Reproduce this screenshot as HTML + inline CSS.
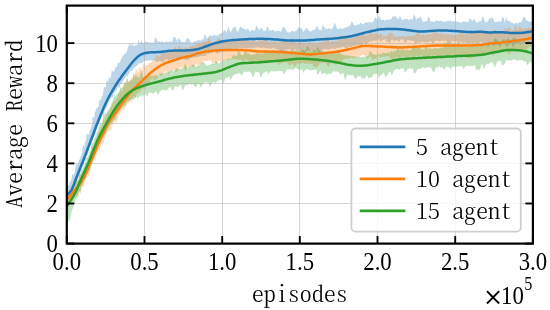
<!DOCTYPE html>
<html><head><meta charset="utf-8"><style>
html,body{margin:0;padding:0;background:#fff;}
svg{display:block;}
.serif{font-family:"Liberation Serif",serif;font-size:24px;fill:#000;}
.song{font-family:"Noto Serif CJK SC","Liberation Serif",serif;font-size:24px;fill:#000;font-feature-settings:"hwid";font-weight:300;}
</style></head><body>
<svg width="550" height="310" viewBox="0 0 550 310">
<rect width="550" height="310" fill="#fff"/>
<g fill-opacity="0.3" stroke="none">
<path d="M66.8,186.6 67.4,185.7 68.0,185.4 68.6,185.7 69.2,184.5 69.8,182.2 70.4,181.6 71.0,180.9 71.6,179.2 72.2,173.4 72.8,174.4 73.4,175.7 74.0,173.8 74.6,172.8 75.2,168.5 75.8,163.5 76.4,164.2 77.0,165.8 77.6,163.5 78.2,162.4 78.8,160.0 79.4,159.9 80.0,157.9 80.6,156.6 81.2,155.3 81.8,153.4 82.4,150.8 83.0,145.0 83.6,145.2 84.2,146.7 84.8,145.0 85.4,141.2 86.0,140.9 86.6,134.3 87.2,133.6 87.8,134.4 88.4,134.7 89.0,133.7 89.6,130.6 90.2,130.0 90.8,128.4 91.4,126.2 92.0,124.0 92.6,117.6 93.2,116.6 93.8,118.0 94.4,116.9 95.0,111.7 95.6,111.4 96.2,107.9 96.8,108.3 97.4,107.7 98.0,107.2 98.6,105.5 99.2,100.4 99.8,100.1 100.4,100.3 101.0,98.7 101.6,97.6 102.2,96.0 102.8,94.8 103.4,91.8 104.0,86.3 104.6,87.3 105.2,87.4 105.8,87.0 106.4,80.7 107.0,80.5 107.6,81.8 108.2,82.0 108.8,77.0 109.4,78.0 110.0,78.5 110.6,77.5 111.2,75.9 111.8,69.7 112.4,70.7 113.0,71.7 113.6,71.9 114.2,70.6 114.8,69.8 115.4,67.6 116.0,66.7 116.6,66.9 117.2,65.8 117.8,62.7 118.4,61.9 119.0,63.7 119.6,62.7 120.2,61.2 120.8,60.4 121.4,58.3 122.0,57.8 122.6,55.7 123.2,55.4 123.8,55.3 124.4,54.3 125.0,53.1 125.6,53.8 126.2,52.1 126.8,52.2 127.4,49.6 128.0,47.2 128.6,45.7 129.2,44.6 129.8,43.1 130.4,44.1 131.0,46.6 131.6,44.8 132.2,43.3 132.8,44.5 133.4,46.0 134.0,46.5 134.6,44.9 135.2,45.3 135.8,45.6 136.4,44.7 137.0,45.3 137.6,43.9 138.2,38.9 138.8,41.0 139.4,43.7 140.0,42.6 140.6,42.3 141.2,40.6 141.8,40.9 142.4,42.2 143.0,43.1 143.6,42.9 144.2,42.7 144.8,42.1 145.4,41.4 146.0,41.9 146.6,41.7 147.2,41.8 147.8,41.9 148.4,42.1 149.0,43.2 149.6,41.9 150.0,42.1 151.3,42.8 152.6,42.4 153.9,43.1 155.2,36.9 156.5,39.0 157.8,41.4 159.1,41.3 160.4,42.2 161.7,41.2 163.0,42.1 164.3,42.4 165.6,42.0 166.9,41.8 168.2,42.1 169.5,41.5 170.8,41.6 172.1,42.1 173.4,37.6 174.7,37.1 176.0,38.3 177.3,42.1 178.6,37.4 179.9,39.6 181.2,41.8 182.5,41.7 183.8,41.9 185.1,42.4 186.4,39.3 187.7,37.7 189.0,39.3 190.3,41.8 191.6,42.8 192.9,42.5 194.2,41.5 195.5,41.2 196.8,41.1 198.1,40.2 199.4,40.2 200.7,40.7 202.0,39.6 203.3,39.7 204.6,34.0 205.9,36.0 207.2,38.8 208.5,37.1 209.8,35.4 211.1,35.4 212.4,36.1 213.7,35.1 215.0,35.5 216.3,35.2 217.6,35.8 218.9,34.5 220.2,33.5 221.5,33.1 222.8,32.6 224.1,30.0 225.4,30.2 226.7,33.1 228.0,26.5 229.3,29.3 230.6,32.7 231.9,29.9 233.2,27.8 234.5,26.4 235.8,27.6 237.1,32.0 238.4,31.1 239.7,27.6 241.0,26.6 242.3,28.5 243.6,28.5 244.9,29.1 246.2,30.2 247.5,28.5 248.8,29.8 250.1,31.4 251.4,30.5 252.7,29.5 254.0,31.2 255.3,29.5 256.6,25.4 257.9,28.1 259.2,30.4 260.5,27.9 261.8,28.1 263.1,30.4 264.4,31.0 265.7,31.1 267.0,26.3 268.3,28.0 269.6,30.6 270.9,30.6 272.2,30.0 273.5,29.7 274.8,31.4 276.1,31.3 277.4,30.8 278.7,30.8 280.0,31.6 281.3,31.7 282.6,27.3 283.9,27.0 285.2,28.2 286.5,31.3 287.8,32.5 289.1,32.6 290.4,31.9 291.7,31.1 293.0,30.9 294.3,32.0 295.6,30.9 296.9,29.9 298.2,26.8 299.5,28.4 300.8,27.4 302.1,29.6 303.4,31.9 304.7,30.0 306.0,28.0 307.3,28.8 308.6,30.4 309.9,31.2 311.2,31.6 312.5,30.0 313.8,29.8 315.1,29.5 316.4,26.0 317.7,27.3 319.0,30.0 320.3,30.1 321.6,29.7 322.9,24.5 324.2,27.0 325.5,28.7 326.8,29.1 328.1,29.0 329.4,28.0 330.7,29.4 332.0,28.8 333.3,27.1 334.6,22.6 335.9,25.4 337.2,28.8 338.5,29.1 339.8,28.1 341.1,28.5 342.4,28.7 343.7,28.6 345.0,27.8 346.3,27.2 347.6,27.1 348.9,26.1 350.2,25.7 351.5,21.3 352.8,22.7 354.1,25.5 355.4,25.3 356.7,25.1 358.0,23.9 359.3,24.8 360.6,22.6 361.9,23.7 363.2,24.4 364.5,23.2 365.8,22.2 367.1,22.6 368.4,22.5 369.7,21.8 371.0,22.4 372.3,22.6 373.6,21.3 374.9,17.5 376.2,17.9 377.5,20.5 378.8,15.0 380.1,18.0 381.4,20.6 382.7,19.5 384.0,20.2 385.3,20.7 386.6,19.6 387.9,19.4 389.2,19.8 390.5,19.4 391.8,18.6 393.1,15.4 394.4,17.2 395.7,16.1 397.0,18.3 398.3,19.4 399.6,16.3 400.9,17.6 402.2,20.2 403.5,19.4 404.8,19.1 406.1,19.1 407.4,18.8 408.7,20.2 410.0,19.6 411.3,18.6 412.6,19.9 413.9,14.0 415.2,16.7 416.5,20.1 417.8,17.6 419.1,18.6 420.4,16.3 421.7,18.9 423.0,21.9 424.3,21.7 425.6,21.0 426.9,21.6 428.2,16.7 429.5,18.1 430.8,22.3 432.1,21.0 433.4,22.1 434.7,21.8 436.0,20.6 437.3,20.7 438.6,21.1 439.9,21.3 441.2,20.3 442.5,21.5 443.8,21.9 445.1,21.5 446.4,21.8 447.7,20.3 449.0,21.5 450.3,19.9 451.6,21.6 452.9,21.5 454.2,20.9 455.5,21.6 456.8,21.5 458.1,22.2 459.4,21.8 460.7,22.7 462.0,22.4 463.3,21.2 464.6,21.6 465.9,22.0 467.2,21.9 468.5,21.7 469.8,18.0 471.1,19.7 472.4,21.7 473.7,18.8 475.0,20.2 476.3,22.6 477.6,22.6 478.9,21.3 480.2,21.6 481.5,21.0 482.8,16.1 484.1,19.1 485.4,22.9 486.7,21.4 488.0,21.7 489.3,17.7 490.6,19.3 491.9,16.7 493.2,19.0 494.5,22.0 495.8,22.2 497.1,21.7 498.4,21.2 499.7,21.3 501.0,22.4 502.3,17.0 503.6,18.2 504.9,22.7 506.2,17.2 507.5,20.8 508.8,20.7 510.1,21.6 511.4,22.4 512.7,22.4 514.0,24.0 515.3,23.1 516.6,22.8 517.9,23.6 519.2,22.1 520.5,22.4 521.8,21.4 523.1,17.5 524.4,16.5 525.7,19.0 527.0,21.0 528.3,21.2 529.6,21.7 530.9,22.1 532.2,19.7 532.9,20.7 L532.9,42.5 532.2,42.3 530.9,42.1 529.6,43.2 528.3,41.5 527.0,43.1 525.7,42.8 524.4,42.6 523.1,43.1 521.8,43.3 520.5,44.4 519.2,44.2 517.9,42.7 516.6,43.7 515.3,44.3 514.0,45.5 512.7,47.7 511.4,43.0 510.1,43.2 508.8,45.2 507.5,46.3 506.2,47.7 504.9,43.7 503.6,42.6 502.3,43.1 501.0,45.7 499.7,47.6 498.4,43.4 497.1,44.1 495.8,45.0 494.5,44.8 493.2,46.7 491.9,43.4 490.6,43.0 489.3,45.9 488.0,47.6 486.7,42.9 485.4,44.4 484.1,44.8 482.8,43.0 481.5,42.0 480.2,42.0 478.9,42.8 477.6,43.5 476.3,43.1 475.0,42.6 473.7,42.7 472.4,43.5 471.1,42.4 469.8,42.9 468.5,42.9 467.2,43.5 465.9,42.1 464.6,42.4 463.3,42.6 462.0,42.5 460.7,40.9 459.4,43.5 458.1,43.2 456.8,41.1 455.5,41.3 454.2,41.6 452.9,40.9 451.6,41.2 450.3,43.8 449.0,45.9 447.7,43.6 446.4,40.5 445.1,40.4 443.8,41.4 442.5,40.0 441.2,41.0 439.9,41.0 438.6,41.3 437.3,40.4 436.0,40.4 434.7,41.2 433.4,43.4 432.1,43.6 430.8,40.7 429.5,41.4 428.2,42.2 426.9,42.6 425.6,42.4 424.3,42.1 423.0,41.9 421.7,41.5 420.4,42.2 419.1,43.4 417.8,41.7 416.5,43.2 415.2,45.0 413.9,40.7 412.6,41.2 411.3,40.6 410.0,40.4 408.7,40.5 407.4,39.5 406.1,42.6 404.8,42.9 403.5,40.1 402.2,39.2 400.9,39.5 399.6,41.1 398.3,41.8 397.0,39.7 395.7,39.9 394.4,41.2 393.1,40.1 391.8,39.2 390.5,41.4 389.2,43.6 387.9,41.2 386.6,42.2 385.3,39.1 384.0,39.7 382.7,39.8 381.4,40.9 380.1,41.6 378.8,39.1 377.5,39.6 376.2,40.9 374.9,40.8 373.6,40.1 372.3,41.5 371.0,41.5 369.7,41.4 368.4,42.3 367.1,44.0 365.8,46.2 364.5,42.6 363.2,42.7 361.9,46.5 360.6,47.8 359.3,44.9 358.0,44.6 356.7,45.5 355.4,45.6 354.1,45.8 352.8,45.8 351.5,47.2 350.2,46.5 348.9,46.5 347.6,48.4 346.3,48.5 345.0,47.8 343.7,46.7 342.4,46.9 341.1,47.6 339.8,47.9 338.5,47.4 337.2,47.7 335.9,48.5 334.6,48.8 333.3,48.8 332.0,48.1 330.7,49.0 329.4,48.9 328.1,50.0 326.8,48.9 325.5,48.7 324.2,49.6 322.9,49.4 321.6,51.1 320.3,52.8 319.0,52.7 317.7,51.5 316.4,49.7 315.1,52.2 313.8,53.6 312.5,49.4 311.2,50.5 309.9,50.8 308.6,50.3 307.3,50.0 306.0,52.1 304.7,54.4 303.4,53.0 302.1,52.5 300.8,49.5 299.5,49.9 298.2,49.7 296.9,50.4 295.6,49.3 294.3,49.1 293.0,51.2 291.7,51.7 290.4,49.4 289.1,48.7 287.8,49.9 286.5,48.7 285.2,51.8 283.9,53.0 282.6,51.9 281.3,50.3 280.0,52.5 278.7,51.0 277.4,48.9 276.1,48.9 274.8,48.8 273.5,47.6 272.2,48.4 270.9,48.7 269.6,48.6 268.3,48.4 267.0,48.3 265.7,48.4 264.4,47.7 263.1,47.4 261.8,47.8 260.5,48.3 259.2,47.6 257.9,47.3 256.6,47.5 255.3,47.5 254.0,47.7 252.7,48.1 251.4,48.6 250.1,47.8 248.8,47.7 247.5,48.6 246.2,48.4 244.9,47.9 243.6,48.5 242.3,47.6 241.0,48.8 239.7,47.7 238.4,48.6 237.1,49.4 235.8,48.8 234.5,48.9 233.2,48.3 231.9,50.0 230.6,50.7 229.3,50.2 228.0,50.3 226.7,48.8 225.4,50.5 224.1,52.1 222.8,49.2 221.5,49.9 220.2,51.4 218.9,53.1 217.6,52.7 216.3,53.6 215.0,52.0 213.7,51.6 212.4,52.7 211.1,53.0 209.8,53.0 208.5,54.0 207.2,53.7 205.9,55.2 204.6,56.1 203.3,55.8 202.0,56.1 200.7,56.0 199.4,56.3 198.1,57.2 196.8,56.9 195.5,57.6 194.2,57.5 192.9,57.6 191.6,57.8 190.3,58.2 189.0,59.4 187.7,60.1 186.4,59.5 185.1,60.0 183.8,58.4 182.5,58.2 181.2,58.1 179.9,58.4 178.6,59.6 177.3,60.9 176.0,58.8 174.7,58.1 173.4,59.9 172.1,60.5 170.8,58.6 169.5,59.8 168.2,60.4 166.9,58.9 165.6,59.4 164.3,60.9 163.0,62.4 161.7,60.9 160.4,61.6 159.1,60.8 157.8,61.7 156.5,62.2 155.2,59.9 153.9,60.7 152.6,60.4 151.3,60.6 150.0,60.2 149.6,60.3 149.0,60.7 148.4,60.6 147.8,61.0 147.2,60.6 146.6,60.9 146.0,60.6 145.4,60.7 144.8,61.1 144.2,61.0 143.6,61.1 143.0,62.6 142.4,63.2 141.8,62.0 141.2,63.8 140.6,64.5 140.0,62.8 139.4,63.0 138.8,63.3 138.2,64.3 137.6,64.6 137.0,65.7 136.4,65.9 135.8,66.6 135.2,67.1 134.6,67.5 134.0,68.3 133.4,68.5 132.8,70.1 132.2,71.2 131.6,70.5 131.0,70.6 130.4,71.5 129.8,72.4 129.2,73.3 128.6,74.2 128.0,75.1 127.4,77.3 126.8,75.3 126.2,76.4 125.6,77.1 125.0,77.6 124.4,78.7 123.8,79.6 123.2,80.2 122.6,81.8 122.0,84.0 121.4,83.4 120.8,83.4 120.2,85.5 119.6,86.9 119.0,88.2 118.4,86.8 117.8,87.5 117.2,88.2 116.6,90.1 116.0,91.9 115.4,91.2 114.8,92.5 114.2,92.9 113.6,93.8 113.0,96.3 112.4,98.6 111.8,96.9 111.2,97.8 110.6,99.0 110.0,99.6 109.4,101.2 108.8,101.8 108.2,103.0 107.6,105.4 107.0,107.8 106.4,107.1 105.8,108.4 105.2,109.3 104.6,111.4 104.0,112.9 103.4,115.1 102.8,114.6 102.2,116.2 101.6,117.7 101.0,119.0 100.4,120.8 99.8,121.8 99.2,123.2 98.6,124.6 98.0,126.2 97.4,127.4 96.8,129.4 96.2,131.1 95.6,133.8 95.0,135.9 94.4,135.5 93.8,137.0 93.2,138.6 92.6,140.2 92.0,141.6 91.4,143.6 90.8,145.3 90.2,146.6 89.6,148.0 89.0,150.5 88.4,152.5 87.8,153.9 87.2,156.3 86.6,155.8 86.0,158.8 85.4,161.0 84.8,161.0 84.2,163.0 83.6,165.9 83.0,165.3 82.4,166.8 81.8,169.5 81.2,171.5 80.6,172.0 80.0,173.0 79.4,174.2 78.8,175.8 78.2,177.5 77.6,179.1 77.0,179.8 76.4,181.4 75.8,183.5 75.2,184.6 74.6,186.2 74.0,188.1 73.4,189.8 72.8,191.1 72.2,192.8 71.6,194.9 71.0,194.5 70.4,196.6 69.8,197.8 69.2,197.1 68.6,197.6 68.0,199.2 67.4,198.0 66.8,199.0 Z" fill="#1f77b4"/>
<path d="M66.8,195.3 67.4,193.2 68.0,193.7 68.6,192.8 69.2,191.7 69.8,190.9 70.4,189.2 71.0,186.9 71.6,185.5 72.2,184.3 72.8,185.8 73.4,185.3 74.0,185.3 74.6,184.4 75.2,183.1 75.8,182.2 76.4,175.9 77.0,176.4 77.6,180.0 78.2,179.4 78.8,173.3 79.4,173.5 80.0,175.3 80.6,174.7 81.2,175.4 81.8,172.7 82.4,172.2 83.0,170.5 83.6,170.2 84.2,169.5 84.8,167.2 85.4,166.0 86.0,164.3 86.6,164.1 87.2,162.5 87.8,159.8 88.4,159.4 89.0,156.1 89.6,151.9 90.2,151.3 90.8,153.0 91.4,145.4 92.0,147.0 92.6,148.1 93.2,146.3 93.8,144.9 94.4,143.9 95.0,142.1 95.6,139.2 96.2,138.6 96.8,137.7 97.4,137.7 98.0,133.4 98.6,131.3 99.2,131.6 99.8,131.2 100.4,129.0 101.0,127.4 101.6,125.6 102.2,125.2 102.8,118.1 103.4,119.3 104.0,121.0 104.6,118.9 105.2,117.5 105.8,116.6 106.4,115.7 107.0,113.2 107.6,110.9 108.2,112.0 108.8,111.2 109.4,109.4 110.0,108.2 110.6,106.9 111.2,107.4 111.8,101.5 112.4,102.3 113.0,105.2 113.6,99.6 114.2,100.5 114.8,102.5 115.4,100.1 116.0,100.1 116.6,98.4 117.2,99.1 117.8,96.5 118.4,93.0 119.0,93.2 119.6,94.6 120.2,87.5 120.8,89.8 121.4,91.3 122.0,92.1 122.6,90.3 123.2,83.8 123.8,85.5 124.4,81.6 125.0,82.7 125.6,84.2 126.2,84.4 126.8,79.4 127.4,79.1 128.0,79.2 128.6,82.4 129.2,82.0 129.8,81.2 130.4,80.8 131.0,80.2 131.6,77.8 132.2,76.6 132.8,78.0 133.4,75.6 134.0,74.6 134.6,74.5 135.2,74.4 135.8,68.5 136.4,69.0 137.0,71.3 137.6,71.9 138.2,72.9 138.8,67.7 139.4,67.0 140.0,71.7 140.6,66.5 141.2,68.5 141.8,71.0 142.4,70.2 143.0,63.0 143.6,64.9 144.2,61.8 144.8,64.7 145.4,66.1 146.0,66.4 146.6,64.8 147.2,65.1 147.8,65.5 148.4,65.1 149.0,62.8 149.6,63.5 150.0,63.3 151.3,61.7 152.6,61.2 153.9,60.3 155.2,58.4 156.5,55.3 157.8,54.8 159.1,57.3 160.4,56.2 161.7,51.7 163.0,52.9 164.3,52.7 165.6,53.6 166.9,53.2 168.2,52.0 169.5,52.0 170.8,51.5 172.1,51.3 173.4,51.8 174.7,46.3 176.0,47.7 177.3,50.9 178.6,45.0 179.9,46.5 181.2,48.6 182.5,48.5 183.8,49.0 185.1,48.0 186.4,47.1 187.7,48.2 189.0,46.8 190.3,46.3 191.6,46.6 192.9,45.3 194.2,45.4 195.5,44.8 196.8,44.5 198.1,43.5 199.4,43.2 200.7,43.6 202.0,42.0 203.3,42.4 204.6,41.0 205.9,41.3 207.2,41.7 208.5,36.7 209.8,39.4 211.1,42.3 212.4,42.0 213.7,42.1 215.0,41.8 216.3,41.2 217.6,38.7 218.9,38.2 220.2,39.0 221.5,42.0 222.8,41.0 224.1,41.0 225.4,40.3 226.7,41.7 228.0,40.7 229.3,41.3 230.6,41.5 231.9,41.5 233.2,40.3 234.5,41.0 235.8,40.9 237.1,40.3 238.4,40.2 239.7,40.2 241.0,39.0 242.3,38.3 243.6,39.4 244.9,39.5 246.2,40.3 247.5,40.3 248.8,40.3 250.1,40.8 251.4,41.8 252.7,39.1 254.0,41.0 255.3,41.5 256.6,41.7 257.9,41.7 259.2,37.3 260.5,38.7 261.8,40.7 263.1,41.2 264.4,37.4 265.7,38.7 267.0,39.9 268.3,41.4 269.6,41.9 270.9,41.7 272.2,41.4 273.5,42.4 274.8,41.3 276.1,41.6 277.4,43.0 278.7,42.5 280.0,41.5 281.3,42.8 282.6,38.3 283.9,39.7 285.2,40.1 286.5,41.7 287.8,43.2 289.1,41.2 290.4,40.9 291.7,36.9 293.0,40.4 294.3,42.8 295.6,42.6 296.9,43.7 298.2,42.5 299.5,41.5 300.8,42.2 302.1,43.7 303.4,43.3 304.7,43.3 306.0,44.3 307.3,44.5 308.6,41.9 309.9,41.8 311.2,42.9 312.5,43.5 313.8,43.7 315.1,43.6 316.4,43.2 317.7,42.8 319.0,42.9 320.3,42.3 321.6,42.4 322.9,42.2 324.2,42.1 325.5,39.3 326.8,36.3 328.1,38.6 329.4,42.7 330.7,41.4 332.0,41.1 333.3,41.2 334.6,41.4 335.9,40.8 337.2,41.2 338.5,40.6 339.8,35.6 341.1,37.1 342.4,39.7 343.7,34.6 345.0,35.9 346.3,36.4 347.6,37.3 348.9,38.8 350.2,38.8 351.5,37.6 352.8,37.4 354.1,38.0 355.4,37.4 356.7,35.6 358.0,35.6 359.3,35.1 360.6,35.8 361.9,32.3 363.2,33.2 364.5,35.3 365.8,36.1 367.1,35.3 368.4,35.0 369.7,31.6 371.0,32.3 372.3,32.5 373.6,35.0 374.9,33.2 376.2,33.2 377.5,34.6 378.8,35.1 380.1,33.4 381.4,33.8 382.7,36.3 384.0,35.3 385.3,36.8 386.6,35.6 387.9,35.6 389.2,32.0 390.5,34.1 391.8,32.4 393.1,34.4 394.4,36.7 395.7,36.3 397.0,36.5 398.3,36.5 399.6,35.9 400.9,37.0 402.2,36.2 403.5,36.1 404.8,36.8 406.1,37.3 407.4,35.8 408.7,35.8 410.0,36.1 411.3,35.2 412.6,36.4 413.9,35.5 415.2,35.6 416.5,32.9 417.8,33.4 419.1,33.9 420.4,34.4 421.7,35.4 423.0,34.3 424.3,34.7 425.6,35.8 426.9,34.8 428.2,34.2 429.5,34.2 430.8,34.0 432.1,34.9 433.4,33.5 434.7,30.3 436.0,32.2 437.3,32.6 438.6,34.5 439.9,33.2 441.2,33.6 442.5,33.5 443.8,34.8 445.1,34.5 446.4,33.7 447.7,34.6 449.0,35.0 450.3,33.8 451.6,35.0 452.9,34.4 454.2,35.1 455.5,35.2 456.8,34.5 458.1,34.3 459.4,34.2 460.7,28.7 462.0,31.6 463.3,33.2 464.6,34.8 465.9,33.0 467.2,34.1 468.5,34.9 469.8,30.2 471.1,31.9 472.4,33.6 473.7,32.1 475.0,32.4 476.3,33.3 477.6,32.7 478.9,31.1 480.2,30.0 481.5,31.2 482.8,29.4 484.1,30.3 485.4,33.1 486.7,30.1 488.0,32.0 489.3,32.2 490.6,32.7 491.9,32.0 493.2,31.8 494.5,29.3 495.8,29.8 497.1,32.9 498.4,31.9 499.7,32.8 501.0,32.1 502.3,31.6 503.6,31.6 504.9,27.8 506.2,28.5 507.5,30.4 508.8,26.3 510.1,28.5 511.4,30.7 512.7,30.5 514.0,30.2 515.3,24.4 516.6,27.3 517.9,30.4 519.2,25.9 520.5,26.6 521.8,29.4 523.1,29.0 524.4,28.4 525.7,28.8 527.0,29.1 528.3,27.6 529.6,28.6 530.9,28.3 532.2,28.7 532.9,27.7 L532.9,46.4 532.2,45.6 530.9,46.7 529.6,46.2 528.3,47.8 527.0,48.8 525.7,52.2 524.4,48.9 523.1,49.1 521.8,51.6 520.5,52.3 519.2,49.1 517.9,49.2 516.6,50.1 515.3,50.0 514.0,50.5 512.7,50.5 511.4,51.6 510.1,52.7 508.8,55.5 507.5,51.8 506.2,51.5 504.9,50.6 503.6,51.7 502.3,52.3 501.0,51.9 499.7,52.3 498.4,52.6 497.1,52.1 495.8,52.5 494.5,54.0 493.2,56.4 491.9,52.2 490.6,51.7 489.3,51.9 488.0,52.8 486.7,52.2 485.4,53.5 484.1,53.8 482.8,53.6 481.5,54.6 480.2,53.2 478.9,55.0 477.6,54.1 476.3,54.5 475.0,56.7 473.7,57.0 472.4,57.8 471.1,58.8 469.8,57.8 468.5,58.0 467.2,57.4 465.9,58.0 464.6,55.6 463.3,54.8 462.0,54.5 460.7,55.4 459.4,55.6 458.1,55.2 456.8,55.4 455.5,54.8 454.2,55.0 452.9,54.2 451.6,54.7 450.3,55.4 449.0,56.9 447.7,57.4 446.4,56.8 445.1,54.3 443.8,54.8 442.5,56.5 441.2,56.9 439.9,58.0 438.6,58.1 437.3,57.6 436.0,58.4 434.7,54.4 433.4,56.1 432.1,56.6 430.8,55.1 429.5,56.9 428.2,58.0 426.9,57.8 425.6,59.3 424.3,56.2 423.0,57.1 421.7,54.8 420.4,55.4 419.1,55.8 417.8,56.1 416.5,55.5 415.2,56.3 413.9,58.3 412.6,59.8 411.3,55.6 410.0,55.9 408.7,56.7 407.4,57.3 406.1,59.2 404.8,56.1 403.5,57.0 402.2,56.6 400.9,57.9 399.6,57.8 398.3,59.1 397.0,56.5 395.7,58.4 394.4,60.2 393.1,58.5 391.8,60.0 390.5,58.7 389.2,55.7 387.9,56.3 386.6,56.2 385.3,56.2 384.0,56.9 382.7,56.4 381.4,57.3 380.1,58.0 378.8,55.4 377.5,56.9 376.2,58.5 374.9,58.8 373.6,59.5 372.3,60.4 371.0,56.2 369.7,56.7 368.4,57.5 367.1,59.1 365.8,55.8 364.5,55.8 363.2,54.7 361.9,54.9 360.6,56.5 359.3,56.4 358.0,56.1 356.7,57.0 355.4,58.5 354.1,58.6 352.8,57.4 351.5,57.5 350.2,58.2 348.9,58.8 347.6,58.5 346.3,58.6 345.0,59.1 343.7,59.1 342.4,60.9 341.1,62.2 339.8,61.3 338.5,61.1 337.2,63.1 335.9,65.1 334.6,62.6 333.3,64.2 332.0,61.6 330.7,61.5 329.4,65.5 328.1,67.1 326.8,64.5 325.5,62.8 324.2,62.4 322.9,62.9 321.6,63.3 320.3,62.5 319.0,64.5 317.7,67.1 316.4,67.7 315.1,66.0 313.8,68.6 312.5,63.5 311.2,63.9 309.9,63.9 308.6,63.6 307.3,63.6 306.0,63.7 304.7,64.1 303.4,63.0 302.1,62.9 300.8,63.7 299.5,63.8 298.2,63.7 296.9,63.6 295.6,65.6 294.3,67.1 293.0,63.4 291.7,63.6 290.4,64.7 289.1,65.4 287.8,62.6 286.5,62.6 285.2,62.9 283.9,61.8 282.6,62.8 281.3,63.0 280.0,64.2 278.7,65.6 277.4,62.2 276.1,62.2 274.8,60.9 273.5,60.8 272.2,61.2 270.9,60.9 269.6,61.8 268.3,63.6 267.0,63.6 265.7,61.1 264.4,61.9 263.1,60.6 261.8,61.0 260.5,61.4 259.2,63.6 257.9,63.9 256.6,60.6 255.3,59.9 254.0,61.3 252.7,63.8 251.4,64.2 250.1,60.8 248.8,60.8 247.5,59.4 246.2,59.8 244.9,60.0 243.6,61.5 242.3,62.5 241.0,59.0 239.7,59.7 238.4,60.1 237.1,59.0 235.8,59.2 234.5,59.5 233.2,58.9 231.9,59.6 230.6,59.3 229.3,59.4 228.0,60.0 226.7,59.6 225.4,59.6 224.1,60.3 222.8,59.8 221.5,60.8 220.2,62.5 218.9,60.2 217.6,62.3 216.3,64.1 215.0,60.2 213.7,63.1 212.4,64.8 211.1,60.1 209.8,61.2 208.5,60.1 207.2,61.0 205.9,60.7 204.6,60.8 203.3,61.0 202.0,63.0 200.7,64.3 199.4,65.4 198.1,67.5 196.8,63.8 195.5,64.7 194.2,66.3 192.9,67.7 191.6,65.2 190.3,66.7 189.0,68.7 187.7,65.3 186.4,69.3 185.1,71.5 183.8,67.3 182.5,67.5 181.2,67.5 179.9,67.6 178.6,69.3 177.3,70.7 176.0,72.7 174.7,69.8 173.4,70.0 172.1,70.1 170.8,70.3 169.5,72.9 168.2,75.6 166.9,71.5 165.6,71.1 164.3,71.9 163.0,74.7 161.7,76.1 160.4,75.4 159.1,74.4 157.8,77.0 156.5,79.3 155.2,79.6 153.9,81.3 152.6,78.0 151.3,79.8 150.0,80.2 149.6,82.9 149.0,84.3 148.4,82.4 147.8,82.6 147.2,84.7 146.6,87.0 146.0,84.2 145.4,84.6 144.8,86.0 144.2,86.3 143.6,87.2 143.0,88.2 142.4,89.0 141.8,89.1 141.2,89.6 140.6,90.8 140.0,90.7 139.4,91.7 138.8,91.8 138.2,92.9 137.6,93.5 137.0,93.2 136.4,94.1 135.8,96.9 135.2,98.5 134.6,95.9 134.0,96.0 133.4,96.7 132.8,98.2 132.2,99.3 131.6,102.0 131.0,103.7 130.4,100.0 129.8,101.0 129.2,102.4 128.6,103.1 128.0,103.8 127.4,103.4 126.8,104.6 126.2,104.9 125.6,105.7 125.0,106.5 124.4,109.3 123.8,111.0 123.2,109.4 122.6,109.3 122.0,111.0 121.4,111.8 120.8,112.8 120.2,112.4 119.6,114.6 119.0,115.3 118.4,116.1 117.8,117.6 117.2,119.8 116.6,122.3 116.0,123.4 115.4,120.0 114.8,121.4 114.2,121.0 113.6,123.9 113.0,125.0 112.4,124.2 111.8,124.2 111.2,127.6 110.6,130.4 110.0,131.4 109.4,128.3 108.8,130.6 108.2,131.9 107.6,131.3 107.0,132.8 106.4,134.2 105.8,134.7 105.2,136.6 104.6,137.7 104.0,140.9 103.4,143.3 102.8,142.0 102.2,143.7 101.6,143.9 101.0,144.3 100.4,146.3 99.8,149.9 99.2,151.9 98.6,150.1 98.0,150.4 97.4,152.2 96.8,153.9 96.2,155.1 95.6,158.7 95.0,161.2 94.4,158.3 93.8,160.5 93.2,161.3 92.6,163.1 92.0,164.6 91.4,166.9 90.8,167.2 90.2,170.5 89.6,172.3 89.0,174.2 88.4,177.8 87.8,175.0 87.2,176.9 86.6,177.8 86.0,179.1 85.4,181.5 84.8,182.2 84.2,184.8 83.6,187.3 83.0,186.5 82.4,187.0 81.8,187.0 81.2,191.2 80.6,192.9 80.0,194.3 79.4,190.8 78.8,194.5 78.2,196.4 77.6,195.7 77.0,198.2 76.4,194.5 75.8,195.9 75.2,195.1 74.6,196.8 74.0,196.5 73.4,198.9 72.8,201.6 72.2,199.7 71.6,200.7 71.0,201.2 70.4,201.5 69.8,202.4 69.2,202.4 68.6,205.2 68.0,207.7 67.4,204.0 66.8,204.4 Z" fill="#ff7f0e"/>
<path d="M66.8,197.5 67.4,198.0 68.0,199.1 68.6,198.4 69.2,197.7 69.8,194.4 70.4,194.4 71.0,195.0 71.6,192.8 72.2,189.7 72.8,190.5 73.4,190.0 74.0,190.0 74.6,188.4 75.2,182.6 75.8,183.5 76.4,180.4 77.0,181.1 77.6,180.8 78.2,179.8 78.8,178.6 79.4,174.0 80.0,173.0 80.6,173.5 81.2,171.8 81.8,169.9 82.4,170.0 83.0,167.8 83.6,165.8 84.2,165.8 84.8,164.2 85.4,162.5 86.0,160.9 86.6,157.2 87.2,156.9 87.8,158.1 88.4,155.5 89.0,154.9 89.6,153.8 90.2,150.8 90.8,149.9 91.4,144.0 92.0,142.4 92.6,142.9 93.2,143.5 93.8,141.1 94.4,139.3 95.0,138.1 95.6,136.8 96.2,134.5 96.8,132.9 97.4,131.5 98.0,131.2 98.6,127.4 99.2,126.6 99.8,122.1 100.4,123.6 101.0,122.7 101.6,123.4 102.2,123.0 102.8,120.9 103.4,115.0 104.0,112.8 104.6,115.5 105.2,112.1 105.8,112.4 106.4,114.0 107.0,113.6 107.6,111.2 108.2,110.4 108.8,109.2 109.4,107.7 110.0,106.9 110.6,105.8 111.2,104.9 111.8,104.3 112.4,102.5 113.0,100.3 113.6,97.9 114.2,94.6 114.8,94.6 115.4,97.1 116.0,96.0 116.6,93.8 117.2,93.4 117.8,93.2 118.4,92.4 119.0,90.9 119.6,91.2 120.2,86.5 120.8,87.2 121.4,88.6 122.0,88.5 122.6,87.2 123.2,86.0 123.8,86.6 124.4,84.9 125.0,81.0 125.6,82.0 126.2,83.8 126.8,77.5 127.4,78.4 128.0,82.2 128.6,82.5 129.2,80.6 129.8,81.1 130.4,80.2 131.0,79.1 131.6,79.5 132.2,79.4 132.8,79.4 133.4,72.3 134.0,74.0 134.6,77.5 135.2,77.1 135.8,73.1 136.4,75.2 137.0,76.7 137.6,76.7 138.2,76.5 138.8,77.5 139.4,78.0 140.0,72.9 140.6,75.1 141.2,70.3 141.8,72.0 142.4,72.7 143.0,77.1 143.6,77.1 144.2,77.2 144.8,77.6 145.4,76.4 146.0,78.4 146.6,76.8 147.2,77.7 147.8,75.5 148.4,72.5 149.0,73.3 149.6,75.9 150.0,75.9 151.3,75.6 152.6,75.6 153.9,76.5 155.2,75.5 156.5,75.6 157.8,75.7 159.1,74.8 160.4,73.2 161.7,73.6 163.0,73.6 164.3,73.7 165.6,71.8 166.9,72.7 168.2,72.5 169.5,71.5 170.8,70.2 172.1,69.8 173.4,71.2 174.7,70.0 176.0,69.5 177.3,67.9 178.6,69.2 179.9,68.8 181.2,68.9 182.5,67.8 183.8,67.2 185.1,63.6 186.4,66.1 187.7,68.0 189.0,67.2 190.3,66.6 191.6,65.2 192.9,64.3 194.2,64.8 195.5,65.9 196.8,66.7 198.1,65.9 199.4,65.9 200.7,63.5 202.0,62.1 203.3,61.9 204.6,63.2 205.9,65.0 207.2,66.1 208.5,65.1 209.8,64.9 211.1,63.9 212.4,63.9 213.7,64.0 215.0,60.3 216.3,61.3 217.6,63.1 218.9,63.4 220.2,62.5 221.5,61.5 222.8,59.3 224.1,59.7 225.4,59.9 226.7,59.1 228.0,58.7 229.3,59.0 230.6,58.8 231.9,58.0 233.2,54.2 234.5,55.6 235.8,55.9 237.1,55.5 238.4,49.3 239.7,52.7 241.0,54.4 242.3,55.7 243.6,54.6 244.9,49.8 246.2,52.2 247.5,53.2 248.8,53.6 250.1,54.6 251.4,55.1 252.7,54.5 254.0,55.0 255.3,54.2 256.6,52.2 257.9,53.1 259.2,53.9 260.5,53.6 261.8,53.6 263.1,54.0 264.4,51.0 265.7,51.8 267.0,52.2 268.3,52.1 269.6,52.0 270.9,53.2 272.2,52.6 273.5,50.8 274.8,51.7 276.1,52.6 277.4,52.3 278.7,51.5 280.0,51.4 281.3,49.1 282.6,50.7 283.9,51.4 285.2,51.0 286.5,51.1 287.8,50.5 289.1,51.7 290.4,50.4 291.7,51.3 293.0,50.5 294.3,50.4 295.6,50.4 296.9,49.8 298.2,50.7 299.5,50.7 300.8,49.3 302.1,50.1 303.4,50.1 304.7,50.5 306.0,50.0 307.3,45.5 308.6,46.9 309.9,50.3 311.2,50.9 312.5,49.8 313.8,50.6 315.1,49.9 316.4,49.9 317.7,46.0 319.0,49.2 320.3,51.3 321.6,51.3 322.9,50.9 324.2,51.8 325.5,51.9 326.8,51.4 328.1,53.0 329.4,53.2 330.7,53.4 332.0,52.9 333.3,53.7 334.6,53.7 335.9,53.7 337.2,53.8 338.5,50.4 339.8,52.7 341.1,54.2 342.4,54.2 343.7,55.1 345.0,55.7 346.3,54.7 347.6,56.3 348.9,55.2 350.2,55.7 351.5,56.4 352.8,56.0 354.1,56.2 355.4,57.3 356.7,56.5 358.0,56.2 359.3,56.5 360.6,57.3 361.9,57.3 363.2,56.3 364.5,57.3 365.8,56.0 367.1,56.2 368.4,56.2 369.7,50.6 371.0,52.0 372.3,53.7 373.6,54.2 374.9,54.9 376.2,54.4 377.5,55.2 378.8,53.7 380.1,53.7 381.4,54.2 382.7,52.8 384.0,52.6 385.3,53.1 386.6,53.2 387.9,51.9 389.2,53.2 390.5,51.4 391.8,51.1 393.1,52.3 394.4,50.7 395.7,51.3 397.0,48.8 398.3,48.9 399.6,50.0 400.9,49.9 402.2,49.3 403.5,49.6 404.8,49.8 406.1,50.5 407.4,49.6 408.7,50.6 410.0,50.2 411.3,50.1 412.6,46.6 413.9,44.5 415.2,46.0 416.5,46.2 417.8,47.2 419.1,46.5 420.4,47.7 421.7,49.8 423.0,49.1 424.3,49.9 425.6,44.7 426.9,45.8 428.2,49.4 429.5,48.1 430.8,48.4 432.1,49.3 433.4,48.6 434.7,47.6 436.0,48.6 437.3,48.6 438.6,48.3 439.9,47.8 441.2,47.8 442.5,48.0 443.8,42.6 445.1,44.3 446.4,41.8 447.7,43.2 449.0,46.7 450.3,43.9 451.6,45.5 452.9,43.4 454.2,43.9 455.5,46.3 456.8,46.6 458.1,42.4 459.4,44.5 460.7,45.9 462.0,46.3 463.3,46.1 464.6,47.0 465.9,46.9 467.2,47.1 468.5,47.0 469.8,46.8 471.1,45.1 472.4,44.5 473.7,43.3 475.0,43.6 476.3,45.6 477.6,42.8 478.9,42.7 480.2,43.5 481.5,44.7 482.8,45.7 484.1,45.9 485.4,45.4 486.7,44.7 488.0,42.2 489.3,41.7 490.6,43.6 491.9,43.5 493.2,43.6 494.5,37.4 495.8,39.3 497.1,39.3 498.4,41.4 499.7,42.1 501.0,42.4 502.3,39.8 503.6,39.3 504.9,39.5 506.2,41.1 507.5,38.2 508.8,38.2 510.1,41.2 511.4,40.6 512.7,38.0 514.0,38.6 515.3,37.6 516.6,40.5 517.9,40.8 519.2,41.3 520.5,41.8 521.8,42.9 523.1,39.9 524.4,41.1 525.7,42.3 527.0,43.6 528.3,40.7 529.6,41.6 530.9,43.7 532.2,45.8 532.9,45.4 L532.9,63.6 532.2,62.3 530.9,61.9 529.6,61.4 528.3,64.6 527.0,64.9 525.7,60.8 524.4,61.9 523.1,60.4 521.8,59.7 520.5,59.9 519.2,60.4 517.9,60.1 516.6,61.0 515.3,59.6 514.0,59.4 512.7,59.4 511.4,60.2 510.1,60.8 508.8,59.9 507.5,60.7 506.2,59.5 504.9,63.3 503.6,64.7 502.3,65.7 501.0,61.3 499.7,60.6 498.4,61.9 497.1,61.0 495.8,65.6 494.5,67.8 493.2,62.6 491.9,62.2 490.6,62.4 489.3,63.3 488.0,64.5 486.7,63.7 485.4,66.0 484.1,69.6 482.8,64.4 481.5,64.4 480.2,68.9 478.9,70.3 477.6,68.4 476.3,71.1 475.0,64.9 473.7,65.3 472.4,66.6 471.1,65.7 469.8,66.6 468.5,65.5 467.2,66.5 465.9,65.5 464.6,67.5 463.3,68.7 462.0,65.5 460.7,66.8 459.4,66.2 458.1,66.1 456.8,66.9 455.5,66.5 454.2,66.8 452.9,66.6 451.6,67.6 450.3,69.2 449.0,67.0 447.7,66.8 446.4,66.2 445.1,68.5 443.8,70.3 442.5,66.8 441.2,67.9 439.9,66.4 438.6,66.4 437.3,68.1 436.0,66.8 434.7,71.2 433.4,72.6 432.1,69.9 430.8,67.1 429.5,67.7 428.2,67.1 426.9,67.2 425.6,68.4 424.3,67.8 423.0,67.5 421.7,68.1 420.4,68.6 419.1,69.1 417.8,69.0 416.5,71.0 415.2,73.2 413.9,73.5 412.6,67.9 411.3,69.2 410.0,67.7 408.7,68.9 407.4,69.4 406.1,70.9 404.8,72.8 403.5,67.7 402.2,68.9 400.9,67.9 399.6,69.9 398.3,68.9 397.0,68.8 395.7,69.3 394.4,70.0 393.1,72.5 391.8,75.8 390.5,71.5 389.2,71.8 387.9,74.2 386.6,76.0 385.3,77.8 384.0,72.5 382.7,73.2 381.4,74.9 380.1,75.5 378.8,78.0 377.5,73.1 376.2,74.3 374.9,73.9 373.6,74.0 372.3,76.7 371.0,77.7 369.7,77.1 368.4,79.0 367.1,74.8 365.8,77.1 364.5,79.5 363.2,77.2 361.9,79.3 360.6,75.4 359.3,76.4 358.0,75.5 356.7,78.0 355.4,78.6 354.1,76.9 352.8,74.7 351.5,75.6 350.2,74.7 348.9,75.2 347.6,74.6 346.3,76.9 345.0,80.2 343.7,74.0 342.4,72.8 341.1,74.8 339.8,73.4 338.5,72.1 337.2,71.4 335.9,71.4 334.6,71.8 333.3,70.8 332.0,73.1 330.7,74.1 329.4,74.3 328.1,73.0 326.8,75.5 325.5,73.1 324.2,73.3 322.9,73.3 321.6,75.0 320.3,69.8 319.0,73.4 317.7,75.3 316.4,69.7 315.1,69.5 313.8,70.1 312.5,70.0 311.2,70.1 309.9,70.0 308.6,70.1 307.3,69.1 306.0,69.4 304.7,70.8 303.4,72.9 302.1,69.4 300.8,69.5 299.5,70.2 298.2,69.3 296.9,68.6 295.6,68.1 294.3,68.7 293.0,69.8 291.7,69.7 290.4,68.9 289.1,69.7 287.8,69.1 286.5,70.0 285.2,72.6 283.9,74.4 282.6,70.9 281.3,71.3 280.0,70.7 278.7,70.8 277.4,71.6 276.1,70.9 274.8,71.6 273.5,71.4 272.2,71.3 270.9,71.2 269.6,72.2 268.3,74.7 267.0,71.3 265.7,71.7 264.4,72.5 263.1,72.9 261.8,75.5 260.5,78.0 259.2,72.4 257.9,72.3 256.6,72.0 255.3,71.5 254.0,75.6 252.7,77.5 251.4,73.1 250.1,71.7 248.8,71.5 247.5,71.8 246.2,72.0 244.9,71.6 243.6,72.3 242.3,74.6 241.0,75.6 239.7,72.3 238.4,73.9 237.1,73.2 235.8,74.6 234.5,74.2 233.2,75.4 231.9,77.4 230.6,80.3 229.3,76.6 228.0,76.7 226.7,77.9 225.4,78.0 224.1,81.7 222.8,84.6 221.5,79.7 220.2,79.4 218.9,80.9 217.6,80.6 216.3,82.3 215.0,83.1 213.7,82.1 212.4,82.6 211.1,84.4 209.8,87.3 208.5,82.6 207.2,82.6 205.9,82.3 204.6,82.6 203.3,83.3 202.0,85.4 200.7,87.4 199.4,84.1 198.1,83.3 196.8,86.0 195.5,87.6 194.2,85.4 192.9,83.9 191.6,84.9 190.3,84.1 189.0,83.9 187.7,85.2 186.4,85.2 185.1,85.2 183.8,88.4 182.5,90.7 181.2,85.1 179.9,85.2 178.6,86.4 177.3,86.9 176.0,86.6 174.7,86.7 173.4,90.1 172.1,90.6 170.8,86.8 169.5,87.4 168.2,88.6 166.9,90.2 165.6,90.3 164.3,89.9 163.0,89.4 161.7,90.0 160.4,90.8 159.1,93.3 157.8,94.9 156.5,91.1 155.2,92.0 153.9,93.0 152.6,93.8 151.3,93.0 150.0,92.3 149.6,92.5 149.0,92.8 148.4,93.6 147.8,95.8 147.2,97.0 146.6,94.9 146.0,95.9 145.4,93.5 144.8,93.5 144.2,96.3 143.6,96.8 143.0,95.2 142.4,95.1 141.8,95.1 141.2,97.0 140.6,96.7 140.0,96.0 139.4,95.3 138.8,97.5 138.2,97.7 137.6,98.7 137.0,96.6 136.4,97.1 135.8,97.8 135.2,97.7 134.6,97.5 134.0,99.5 133.4,100.2 132.8,99.4 132.2,98.4 131.6,98.7 131.0,99.8 130.4,99.7 129.8,100.8 129.2,100.1 128.6,101.2 128.0,101.1 127.4,101.6 126.8,102.3 126.2,102.3 125.6,105.6 125.0,107.4 124.4,105.4 123.8,105.2 123.2,105.4 122.6,107.4 122.0,107.6 121.4,108.1 120.8,109.4 120.2,110.0 119.6,111.1 119.0,111.8 118.4,111.4 117.8,112.4 117.2,113.9 116.6,115.1 116.0,116.5 115.4,119.0 114.8,121.3 114.2,118.6 113.6,120.7 113.0,120.5 112.4,122.7 111.8,122.5 111.2,123.4 110.6,123.4 110.0,125.1 109.4,125.4 108.8,126.8 108.2,128.3 107.6,129.3 107.0,130.6 106.4,132.8 105.8,135.1 105.2,133.7 104.6,135.1 104.0,138.4 103.4,136.6 102.8,137.7 102.2,137.8 101.6,140.3 101.0,143.3 100.4,142.2 99.8,142.8 99.2,143.8 98.6,144.5 98.0,145.6 97.4,148.0 96.8,148.6 96.2,150.6 95.6,153.0 95.0,155.4 94.4,154.9 93.8,158.3 93.2,157.7 92.6,161.3 92.0,164.6 91.4,162.1 90.8,164.4 90.2,167.9 89.6,171.6 89.0,168.4 88.4,171.9 87.8,174.3 87.2,172.6 86.6,174.2 86.0,176.1 85.4,178.4 84.8,179.8 84.2,179.0 83.6,179.8 83.0,183.6 82.4,185.5 81.8,185.2 81.2,186.4 80.6,189.9 80.0,192.6 79.4,190.5 78.8,191.8 78.2,192.9 77.6,195.6 77.0,198.4 76.4,198.4 75.8,198.9 75.2,200.8 74.6,203.8 74.0,204.6 73.4,206.9 72.8,208.7 72.2,209.1 71.6,211.2 71.0,214.8 70.4,217.7 69.8,221.4 69.2,219.0 68.6,220.8 68.0,223.3 67.4,224.6 66.8,227.2 Z" fill="#2ca02c"/>
</g>
<g stroke="#b0b0b0" stroke-opacity="0.55" stroke-width="1"><line x1="144.5" y1="5.6" x2="144.5" y2="243.6"/><line x1="222.5" y1="5.6" x2="222.5" y2="243.6"/><line x1="299.5" y1="5.6" x2="299.5" y2="243.6"/><line x1="377.5" y1="5.6" x2="377.5" y2="243.6"/><line x1="455.5" y1="5.6" x2="455.5" y2="243.6"/><line x1="66.8" y1="203.5" x2="532.9" y2="203.5"/><line x1="66.8" y1="163.5" x2="532.9" y2="163.5"/><line x1="66.8" y1="123.5" x2="532.9" y2="123.5"/><line x1="66.8" y1="83.5" x2="532.9" y2="83.5"/><line x1="66.8" y1="43.5" x2="532.9" y2="43.5"/></g>
<g fill="none" stroke-width="2.5" stroke-linejoin="round" stroke-linecap="butt">
<path d="M66.8,195.3 67.3,194.9 67.8,194.4 68.3,193.9 68.8,193.4 69.3,192.9 69.8,192.3 70.3,191.7 70.8,191.1 71.3,190.3 71.8,189.5 72.3,188.4 72.8,187.2 73.3,186.0 73.8,184.7 74.3,183.4 74.8,181.9 75.3,180.5 75.8,179.2 76.3,177.9 76.8,176.6 77.3,175.3 77.8,174.1 78.3,172.8 78.8,171.5 79.3,170.3 79.8,169.1 80.3,167.8 80.8,166.6 81.3,165.3 81.8,164.1 82.3,162.8 82.8,161.6 83.3,160.3 83.8,159.0 84.3,157.7 84.8,156.4 85.3,155.1 85.8,153.8 86.3,152.5 86.8,151.1 87.3,149.8 87.8,148.5 88.3,147.2 88.8,145.8 89.3,144.5 89.8,143.2 90.3,141.9 90.8,140.5 91.3,139.2 91.8,137.9 92.3,136.5 92.8,135.2 93.3,133.8 93.8,132.5 94.3,131.1 94.8,129.8 95.3,128.5 95.8,127.1 96.3,125.8 96.8,124.5 97.3,123.3 97.8,122.0 98.3,120.8 98.8,119.5 99.3,118.3 99.8,117.1 100.3,115.8 100.8,114.6 101.3,113.4 101.8,112.2 102.3,111.1 102.8,109.9 103.3,108.7 103.8,107.6 104.3,106.4 104.8,105.3 105.3,104.2 105.8,103.1 106.3,102.1 106.8,101.0 107.3,100.0 107.8,99.0 108.3,98.0 108.8,97.1 109.3,96.2 109.8,95.3 110.3,94.4 110.8,93.5 111.3,92.6 111.8,91.8 112.3,90.9 112.8,90.0 113.3,89.2 113.8,88.3 114.3,87.5 114.8,86.7 115.3,85.9 115.8,85.1 116.3,84.3 116.8,83.5 117.3,82.7 117.8,82.0 118.3,81.2 118.8,80.5 119.3,79.8 119.8,79.1 120.3,78.4 120.8,77.7 121.3,77.0 121.8,76.3 122.3,75.6 122.8,74.9 123.3,74.2 123.8,73.5 124.3,72.9 124.8,72.2 125.3,71.5 125.8,70.9 126.3,70.2 126.8,69.6 127.3,68.9 127.8,68.3 128.3,67.6 128.8,67.0 129.3,66.3 129.8,65.6 130.3,65.0 130.8,64.3 131.3,63.7 131.8,63.0 132.3,62.4 132.8,61.8 133.3,61.3 133.8,60.7 134.3,60.2 134.8,59.7 135.3,59.2 135.8,58.6 136.3,58.1 136.8,57.6 137.3,57.2 137.8,56.7 138.3,56.3 138.8,55.9 139.3,55.5 139.8,55.2 140.3,54.9 140.8,54.7 141.3,54.4 141.8,54.2 142.3,54.0 142.8,53.8 143.3,53.6 143.8,53.4 144.3,53.3 144.8,53.1 145.3,53.0 145.8,53.0 146.3,52.9 146.8,52.8 147.3,52.7 147.8,52.7 148.3,52.6 148.8,52.6 149.3,52.5 149.8,52.5 150.0,52.5 151.5,52.3 153.0,52.3 154.5,52.2 156.0,52.2 157.5,52.1 159.0,52.1 160.5,52.0 162.0,51.8 163.5,51.6 165.0,51.4 166.5,51.2 168.0,51.0 169.5,50.8 171.0,50.8 172.5,50.7 174.0,50.6 175.5,50.6 177.0,50.6 178.5,50.5 180.0,50.5 181.5,50.5 183.0,50.4 184.5,50.4 186.0,50.4 187.5,50.3 189.0,50.3 190.5,50.2 192.0,50.0 193.5,49.9 195.0,49.6 196.5,49.4 198.0,49.1 199.5,48.7 201.0,48.1 202.5,47.6 204.0,47.0 205.5,46.5 207.0,46.0 208.5,45.5 210.0,44.9 211.5,44.4 213.0,43.9 214.5,43.4 216.0,43.0 217.5,42.6 219.0,42.2 220.5,41.8 222.0,41.5 223.5,41.2 225.0,40.9 226.5,40.7 228.0,40.6 229.5,40.4 231.0,40.3 232.5,40.1 234.0,40.0 235.5,39.9 237.0,39.8 238.5,39.7 240.0,39.6 241.5,39.5 243.0,39.4 244.5,39.3 246.0,39.3 247.5,39.2 249.0,39.1 250.5,39.0 252.0,39.0 253.5,38.9 255.0,38.9 256.5,38.8 258.0,38.8 259.5,38.8 261.0,38.8 262.5,38.8 264.0,38.9 265.5,38.9 267.0,39.0 268.5,39.0 270.0,39.1 271.5,39.2 273.0,39.3 274.5,39.4 276.0,39.5 277.5,39.6 279.0,39.7 280.5,39.9 282.0,40.0 283.5,40.2 285.0,40.3 286.5,40.5 288.0,40.6 289.5,40.6 291.0,40.6 292.5,40.6 294.0,40.6 295.5,40.6 297.0,40.6 298.5,40.6 300.0,40.6 301.5,40.6 303.0,40.6 304.5,40.5 306.0,40.4 307.5,40.3 309.0,40.2 310.5,40.1 312.0,40.0 313.5,39.9 315.0,39.8 316.5,39.6 318.0,39.5 319.5,39.4 321.0,39.3 322.5,39.2 324.0,39.2 325.5,39.1 327.0,39.0 328.5,38.9 330.0,38.8 331.5,38.7 333.0,38.6 334.5,38.4 336.0,38.3 337.5,38.2 339.0,38.0 340.5,37.8 342.0,37.6 343.5,37.4 345.0,37.2 346.5,37.0 348.0,36.7 349.5,36.5 351.0,36.2 352.5,35.9 354.0,35.5 355.5,35.2 357.0,34.8 358.5,34.4 360.0,34.0 361.5,33.6 363.0,33.2 364.5,32.8 366.0,32.4 367.5,32.0 369.0,31.7 370.5,31.3 372.0,31.0 373.5,30.7 375.0,30.4 376.5,30.1 378.0,29.8 379.5,29.5 381.0,29.3 382.5,29.2 384.0,29.2 385.5,29.1 387.0,29.1 388.5,29.1 390.0,29.0 391.5,29.0 393.0,29.0 394.5,29.0 396.0,29.0 397.5,29.1 399.0,29.2 400.5,29.3 402.0,29.5 403.5,29.6 405.0,29.8 406.5,30.0 408.0,30.2 409.5,30.3 411.0,30.5 412.5,30.7 414.0,30.9 415.5,31.1 417.0,31.3 418.5,31.5 420.0,31.5 421.5,31.5 423.0,31.4 424.5,31.4 426.0,31.3 427.5,31.2 429.0,31.1 430.5,31.0 432.0,30.9 433.5,30.7 435.0,30.7 436.5,30.6 438.0,30.5 439.5,30.5 441.0,30.5 442.5,30.5 444.0,30.6 445.5,30.6 447.0,30.6 448.5,30.7 450.0,30.8 451.5,30.8 453.0,30.9 454.5,31.0 456.0,31.1 457.5,31.2 459.0,31.3 460.5,31.4 462.0,31.5 463.5,31.7 465.0,31.8 466.5,31.9 468.0,32.0 469.5,32.0 471.0,32.0 472.5,32.0 474.0,31.9 475.5,31.9 477.0,31.8 478.5,31.8 480.0,31.8 481.5,31.8 483.0,31.9 484.5,32.1 486.0,32.2 487.5,32.3 489.0,32.4 490.5,32.4 492.0,32.4 493.5,32.3 495.0,32.3 496.5,32.3 498.0,32.2 499.5,32.2 501.0,32.2 502.5,32.3 504.0,32.4 505.5,32.5 507.0,32.6 508.5,32.7 510.0,32.9 511.5,33.0 513.0,33.1 514.5,33.1 516.0,33.1 517.5,33.1 519.0,33.0 520.5,32.9 522.0,32.8 523.5,32.7 525.0,32.5 526.5,32.3 528.0,32.1 529.5,31.9 531.0,31.6 532.5,31.4 532.9,31.3" stroke="#1f77b4"/>
<path d="M66.8,200.0 67.3,199.4 67.8,198.8 68.3,198.2 68.8,197.6 69.3,197.0 69.8,196.4 70.3,195.7 70.8,195.1 71.3,194.5 71.8,193.9 72.3,193.3 72.8,192.6 73.3,192.0 73.8,191.4 74.3,190.8 74.8,190.1 75.3,189.5 75.8,188.9 76.3,188.3 76.8,187.7 77.3,187.1 77.8,186.5 78.3,185.9 78.8,185.3 79.3,184.7 79.8,184.0 80.3,183.4 80.8,182.7 81.3,182.0 81.8,181.3 82.3,180.5 82.8,179.7 83.3,178.8 83.8,177.9 84.3,176.9 84.8,175.8 85.3,174.8 85.8,173.7 86.3,172.5 86.8,171.3 87.3,170.1 87.8,168.9 88.3,167.7 88.8,166.5 89.3,165.3 89.8,164.0 90.3,162.8 90.8,161.6 91.3,160.5 91.8,159.3 92.3,158.1 92.8,157.0 93.3,155.8 93.8,154.6 94.3,153.4 94.8,152.2 95.3,150.9 95.8,149.7 96.3,148.5 96.8,147.3 97.3,146.1 97.8,145.0 98.3,143.8 98.8,142.7 99.3,141.5 99.8,140.4 100.3,139.4 100.8,138.3 101.3,137.2 101.8,136.1 102.3,135.0 102.8,134.0 103.3,132.9 103.8,131.9 104.3,130.8 104.8,129.8 105.3,128.8 105.8,127.8 106.3,126.8 106.8,125.9 107.3,125.0 107.8,124.1 108.3,123.2 108.8,122.3 109.3,121.5 109.8,120.7 110.3,120.0 110.8,119.2 111.3,118.5 111.8,117.8 112.3,117.1 112.8,116.5 113.3,115.8 113.8,115.1 114.3,114.5 114.8,113.8 115.3,113.2 115.8,112.5 116.3,111.8 116.8,111.1 117.3,110.4 117.8,109.6 118.3,108.9 118.8,108.2 119.3,107.5 119.8,106.7 120.3,106.0 120.8,105.3 121.3,104.6 121.8,103.9 122.3,103.2 122.8,102.5 123.3,101.8 123.8,101.1 124.3,100.5 124.8,99.8 125.3,99.1 125.8,98.4 126.3,97.8 126.8,97.1 127.3,96.5 127.8,95.8 128.3,95.2 128.8,94.6 129.3,93.9 129.8,93.3 130.3,92.7 130.8,92.1 131.3,91.6 131.8,91.0 132.3,90.4 132.8,89.9 133.3,89.3 133.8,88.8 134.3,88.3 134.8,87.8 135.3,87.3 135.8,86.8 136.3,86.3 136.8,85.9 137.3,85.4 137.8,84.9 138.3,84.5 138.8,84.0 139.3,83.5 139.8,83.1 140.3,82.6 140.8,82.1 141.3,81.7 141.8,81.2 142.3,80.7 142.8,80.2 143.3,79.7 143.8,79.2 144.3,78.7 144.8,78.2 145.3,77.7 145.8,77.3 146.3,76.8 146.8,76.3 147.3,75.8 147.8,75.4 148.3,74.9 148.8,74.5 149.3,74.0 149.8,73.6 150.0,73.4 151.5,72.1 153.0,70.9 154.5,69.7 156.0,68.6 157.5,67.6 159.0,66.6 160.5,65.7 162.0,64.8 163.5,64.1 165.0,63.4 166.5,62.7 168.0,62.2 169.5,61.7 171.0,61.2 172.5,60.7 174.0,60.2 175.5,59.7 177.0,59.2 178.5,58.7 180.0,58.3 181.5,57.9 183.0,57.6 184.5,57.3 186.0,56.9 187.5,56.6 189.0,56.3 190.5,55.9 192.0,55.4 193.5,54.9 195.0,54.4 196.5,53.8 198.0,53.3 199.5,52.9 201.0,52.6 202.5,52.2 204.0,51.9 205.5,51.6 207.0,51.4 208.5,51.2 210.0,51.0 211.5,50.9 213.0,50.7 214.5,50.6 216.0,50.5 217.5,50.4 219.0,50.3 220.5,50.2 222.0,50.2 223.5,50.2 225.0,50.1 226.5,50.1 228.0,50.1 229.5,50.1 231.0,50.1 232.5,50.0 234.0,50.0 235.5,50.0 237.0,50.0 238.5,50.0 240.0,50.0 241.5,50.0 243.0,50.1 244.5,50.2 246.0,50.3 247.5,50.4 249.0,50.5 250.5,50.6 252.0,50.8 253.5,50.9 255.0,51.0 256.5,51.2 258.0,51.3 259.5,51.4 261.0,51.4 262.5,51.5 264.0,51.5 265.5,51.6 267.0,51.6 268.5,51.6 270.0,51.7 271.5,51.7 273.0,51.7 274.5,51.8 276.0,51.8 277.5,51.9 279.0,52.0 280.5,52.1 282.0,52.2 283.5,52.3 285.0,52.4 286.5,52.5 288.0,52.6 289.5,52.7 291.0,52.9 292.5,53.0 294.0,53.1 295.5,53.2 297.0,53.4 298.5,53.5 300.0,53.6 301.5,53.7 303.0,53.9 304.5,54.0 306.0,54.2 307.5,54.3 309.0,54.4 310.5,54.4 312.0,54.3 313.5,54.2 315.0,54.1 316.5,54.0 318.0,53.8 319.5,53.6 321.0,53.5 322.5,53.4 324.0,53.2 325.5,53.1 327.0,52.9 328.5,52.8 330.0,52.6 331.5,52.5 333.0,52.3 334.5,52.1 336.0,51.9 337.5,51.6 339.0,51.3 340.5,51.0 342.0,50.7 343.5,50.4 345.0,50.1 346.5,49.7 348.0,49.4 349.5,49.1 351.0,48.8 352.5,48.4 354.0,48.0 355.5,47.6 357.0,47.3 358.5,46.9 360.0,46.6 361.5,46.3 363.0,46.1 364.5,46.0 366.0,46.0 367.5,46.0 369.0,46.1 370.5,46.1 372.0,46.2 373.5,46.2 375.0,46.3 376.5,46.4 378.0,46.4 379.5,46.5 381.0,46.5 382.5,46.6 384.0,46.7 385.5,46.8 387.0,46.9 388.5,47.0 390.0,47.0 391.5,47.1 393.0,47.2 394.5,47.3 396.0,47.3 397.5,47.4 399.0,47.4 400.5,47.4 402.0,47.4 403.5,47.3 405.0,47.3 406.5,47.2 408.0,47.1 409.5,47.0 411.0,47.0 412.5,46.9 414.0,46.8 415.5,46.7 417.0,46.6 418.5,46.5 420.0,46.4 421.5,46.3 423.0,46.2 424.5,46.2 426.0,46.1 427.5,46.0 429.0,45.9 430.5,45.8 432.0,45.7 433.5,45.7 435.0,45.6 436.5,45.5 438.0,45.5 439.5,45.5 441.0,45.5 442.5,45.5 444.0,45.5 445.5,45.5 447.0,45.5 448.5,45.5 450.0,45.6 451.5,45.6 453.0,45.6 454.5,45.6 456.0,45.6 457.5,45.6 459.0,45.6 460.5,45.6 462.0,45.6 463.5,45.6 465.0,45.6 466.5,45.5 468.0,45.5 469.5,45.5 471.0,45.4 472.5,45.3 474.0,45.3 475.5,45.2 477.0,45.2 478.5,45.1 480.0,45.0 481.5,44.9 483.0,44.7 484.5,44.4 486.0,44.1 487.5,43.9 489.0,43.6 490.5,43.4 492.0,43.3 493.5,43.2 495.0,43.1 496.5,43.0 498.0,42.9 499.5,42.7 501.0,42.6 502.5,42.5 504.0,42.3 505.5,42.1 507.0,41.9 508.5,41.8 510.0,41.6 511.5,41.4 513.0,41.2 514.5,41.0 516.0,40.8 517.5,40.5 519.0,40.3 520.5,40.1 522.0,39.8 523.5,39.6 525.0,39.3 526.5,39.0 528.0,38.8 529.5,38.5 531.0,38.2 532.5,37.9 532.9,37.8" stroke="#ff7f0e"/>
<path d="M66.8,206.3 67.3,205.6 67.8,204.8 68.3,204.1 68.8,203.3 69.3,202.6 69.8,201.8 70.3,201.0 70.8,200.3 71.3,199.5 71.8,198.7 72.3,198.0 72.8,197.2 73.3,196.3 73.8,195.5 74.3,194.6 74.8,193.7 75.3,192.7 75.8,191.7 76.3,190.6 76.8,189.4 77.3,188.2 77.8,187.0 78.3,185.8 78.8,184.6 79.3,183.3 79.8,182.1 80.3,180.9 80.8,179.8 81.3,178.6 81.8,177.5 82.3,176.4 82.8,175.3 83.3,174.2 83.8,173.1 84.3,172.0 84.8,170.9 85.3,169.8 85.8,168.6 86.3,167.5 86.8,166.4 87.3,165.3 87.8,164.2 88.3,163.0 88.8,161.9 89.3,160.7 89.8,159.5 90.3,158.3 90.8,157.1 91.3,155.8 91.8,154.5 92.3,153.2 92.8,151.9 93.3,150.6 93.8,149.3 94.3,148.0 94.8,146.8 95.3,145.5 95.8,144.3 96.3,143.1 96.8,141.9 97.3,140.8 97.8,139.7 98.3,138.7 98.8,137.6 99.3,136.6 99.8,135.6 100.3,134.6 100.8,133.7 101.3,132.7 101.8,131.7 102.3,130.8 102.8,129.9 103.3,129.0 103.8,128.0 104.3,127.1 104.8,126.2 105.3,125.3 105.8,124.5 106.3,123.6 106.8,122.7 107.3,121.8 107.8,120.9 108.3,120.0 108.8,119.1 109.3,118.2 109.8,117.3 110.3,116.4 110.8,115.6 111.3,114.7 111.8,113.9 112.3,113.1 112.8,112.3 113.3,111.5 113.8,110.7 114.3,109.9 114.8,109.2 115.3,108.4 115.8,107.7 116.3,107.0 116.8,106.3 117.3,105.6 117.8,104.9 118.3,104.2 118.8,103.6 119.3,102.9 119.8,102.3 120.3,101.7 120.8,101.1 121.3,100.5 121.8,99.9 122.3,99.3 122.8,98.7 123.3,98.2 123.8,97.6 124.3,97.1 124.8,96.5 125.3,96.0 125.8,95.5 126.3,95.0 126.8,94.6 127.3,94.1 127.8,93.7 128.3,93.3 128.8,92.9 129.3,92.5 129.8,92.1 130.3,91.8 130.8,91.4 131.3,91.1 131.8,90.8 132.3,90.4 132.8,90.1 133.3,89.8 133.8,89.6 134.3,89.3 134.8,89.0 135.3,88.8 135.8,88.6 136.3,88.3 136.8,88.1 137.3,87.9 137.8,87.7 138.3,87.5 138.8,87.4 139.3,87.2 139.8,87.0 140.3,86.8 140.8,86.7 141.3,86.5 141.8,86.3 142.3,86.2 142.8,86.0 143.3,85.9 143.8,85.7 144.3,85.5 144.8,85.4 145.3,85.2 145.8,85.0 146.3,84.9 146.8,84.7 147.3,84.6 147.8,84.4 148.3,84.3 148.8,84.1 149.3,84.0 149.8,83.9 150.0,83.8 151.5,83.4 153.0,83.0 154.5,82.7 156.0,82.3 157.5,81.9 159.0,81.5 160.5,81.1 162.0,80.7 163.5,80.3 165.0,79.8 166.5,79.4 168.0,79.0 169.5,78.6 171.0,78.2 172.5,77.9 174.0,77.6 175.5,77.3 177.0,77.0 178.5,76.8 180.0,76.5 181.5,76.3 183.0,76.1 184.5,75.8 186.0,75.6 187.5,75.4 189.0,75.2 190.5,75.0 192.0,74.9 193.5,74.7 195.0,74.5 196.5,74.4 198.0,74.2 199.5,74.1 201.0,73.9 202.5,73.8 204.0,73.6 205.5,73.4 207.0,73.3 208.5,73.1 210.0,72.9 211.5,72.7 213.0,72.5 214.5,72.2 216.0,71.9 217.5,71.5 219.0,71.0 220.5,70.6 222.0,70.1 223.5,69.5 225.0,68.9 226.5,68.2 228.0,67.6 229.5,67.0 231.0,66.4 232.5,65.9 234.0,65.3 235.5,64.8 237.0,64.3 238.5,63.8 240.0,63.5 241.5,63.3 243.0,63.2 244.5,63.0 246.0,63.0 247.5,62.9 249.0,62.8 250.5,62.7 252.0,62.7 253.5,62.6 255.0,62.6 256.5,62.5 258.0,62.4 259.5,62.3 261.0,62.2 262.5,62.1 264.0,62.0 265.5,61.8 267.0,61.7 268.5,61.6 270.0,61.5 271.5,61.3 273.0,61.2 274.5,61.1 276.0,60.9 277.5,60.8 279.0,60.7 280.5,60.5 282.0,60.4 283.5,60.2 285.0,60.1 286.5,59.9 288.0,59.8 289.5,59.6 291.0,59.5 292.5,59.3 294.0,59.1 295.5,58.9 297.0,58.8 298.5,58.7 300.0,58.7 301.5,58.7 303.0,58.8 304.5,58.8 306.0,58.9 307.5,59.0 309.0,59.1 310.5,59.2 312.0,59.3 313.5,59.4 315.0,59.5 316.5,59.6 318.0,59.7 319.5,59.9 321.0,60.1 322.5,60.2 324.0,60.4 325.5,60.6 327.0,60.8 328.5,61.0 330.0,61.2 331.5,61.5 333.0,61.7 334.5,61.9 336.0,62.2 337.5,62.5 339.0,62.8 340.5,63.1 342.0,63.5 343.5,63.8 345.0,64.1 346.5,64.5 348.0,64.7 349.5,64.9 351.0,65.1 352.5,65.3 354.0,65.4 355.5,65.6 357.0,65.7 358.5,65.8 360.0,65.8 361.5,65.8 363.0,65.7 364.5,65.5 366.0,65.4 367.5,65.2 369.0,64.9 370.5,64.7 372.0,64.5 373.5,64.2 375.0,64.0 376.5,63.8 378.0,63.5 379.5,63.2 381.0,63.0 382.5,62.7 384.0,62.4 385.5,62.1 387.0,61.8 388.5,61.5 390.0,61.2 391.5,60.9 393.0,60.5 394.5,60.2 396.0,60.0 397.5,59.7 399.0,59.5 400.5,59.3 402.0,59.2 403.5,59.1 405.0,58.9 406.5,58.8 408.0,58.7 409.5,58.6 411.0,58.5 412.5,58.4 414.0,58.3 415.5,58.3 417.0,58.2 418.5,58.1 420.0,58.0 421.5,57.9 423.0,57.8 424.5,57.8 426.0,57.7 427.5,57.6 429.0,57.5 430.5,57.5 432.0,57.4 433.5,57.3 435.0,57.2 436.5,57.2 438.0,57.1 439.5,57.0 441.0,57.0 442.5,56.9 444.0,56.8 445.5,56.7 447.0,56.6 448.5,56.6 450.0,56.5 451.5,56.4 453.0,56.4 454.5,56.3 456.0,56.2 457.5,56.1 459.0,56.0 460.5,56.0 462.0,55.9 463.5,55.8 465.0,55.8 466.5,55.7 468.0,55.7 469.5,55.6 471.0,55.5 472.5,55.5 474.0,55.4 475.5,55.3 477.0,55.2 478.5,55.1 480.0,55.0 481.5,54.8 483.0,54.6 484.5,54.4 486.0,54.1 487.5,53.8 489.0,53.4 490.5,53.1 492.0,52.8 493.5,52.5 495.0,52.2 496.5,51.9 498.0,51.7 499.5,51.4 501.0,51.1 502.5,50.8 504.0,50.5 505.5,50.3 507.0,50.1 508.5,50.0 510.0,50.0 511.5,50.0 513.0,50.0 514.5,50.1 516.0,50.2 517.5,50.2 519.0,50.3 520.5,50.4 522.0,50.6 523.5,50.9 525.0,51.2 526.5,51.5 528.0,52.0 529.5,52.4 531.0,52.9 532.5,53.5 532.9,53.6" stroke="#2ca02c"/>
</g>
<g stroke="#000" stroke-width="1.9"><line x1="66.8" y1="243.6" x2="66.8" y2="236.1"/><line x1="66.8" y1="5.6" x2="66.8" y2="13.1"/><line x1="144.5" y1="243.6" x2="144.5" y2="236.1"/><line x1="144.5" y1="5.6" x2="144.5" y2="13.1"/><line x1="222.2" y1="243.6" x2="222.2" y2="236.1"/><line x1="222.2" y1="5.6" x2="222.2" y2="13.1"/><line x1="299.8" y1="243.6" x2="299.8" y2="236.1"/><line x1="299.8" y1="5.6" x2="299.8" y2="13.1"/><line x1="377.5" y1="243.6" x2="377.5" y2="236.1"/><line x1="377.5" y1="5.6" x2="377.5" y2="13.1"/><line x1="455.2" y1="243.6" x2="455.2" y2="236.1"/><line x1="455.2" y1="5.6" x2="455.2" y2="13.1"/><line x1="532.9" y1="243.6" x2="532.9" y2="236.1"/><line x1="532.9" y1="5.6" x2="532.9" y2="13.1"/><line x1="66.8" y1="243.6" x2="74.3" y2="243.6"/><line x1="532.9" y1="243.6" x2="525.4" y2="243.6"/><line x1="66.8" y1="203.5" x2="74.3" y2="203.5"/><line x1="532.9" y1="203.5" x2="525.4" y2="203.5"/><line x1="66.8" y1="163.4" x2="74.3" y2="163.4"/><line x1="532.9" y1="163.4" x2="525.4" y2="163.4"/><line x1="66.8" y1="123.3" x2="74.3" y2="123.3"/><line x1="532.9" y1="123.3" x2="525.4" y2="123.3"/><line x1="66.8" y1="83.2" x2="74.3" y2="83.2"/><line x1="532.9" y1="83.2" x2="525.4" y2="83.2"/><line x1="66.8" y1="43.1" x2="74.3" y2="43.1"/><line x1="532.9" y1="43.1" x2="525.4" y2="43.1"/></g>
<rect x="66.8" y="5.6" width="466.1" height="238.0" fill="none" stroke="#000" stroke-width="2.2"/>
<g class="serif"><text transform="translate(58,252.1) scale(0.95,1.08)" text-anchor="end">0</text><text transform="translate(58,212.0) scale(0.95,1.08)" text-anchor="end">2</text><text transform="translate(58,171.9) scale(0.95,1.08)" text-anchor="end">4</text><text transform="translate(58,131.8) scale(0.95,1.08)" text-anchor="end">6</text><text transform="translate(58,91.7) scale(0.95,1.08)" text-anchor="end">8</text><text transform="translate(58,51.6) scale(0.95,1.08)" text-anchor="end">10</text><text transform="translate(66.8,269.7) scale(0.95,1.08)" text-anchor="middle">0.0</text><text transform="translate(144.5,269.7) scale(0.95,1.08)" text-anchor="middle">0.5</text><text transform="translate(222.2,269.7) scale(0.95,1.08)" text-anchor="middle">1.0</text><text transform="translate(299.8,269.7) scale(0.95,1.08)" text-anchor="middle">1.5</text><text transform="translate(377.5,269.7) scale(0.95,1.08)" text-anchor="middle">2.0</text><text transform="translate(455.2,269.7) scale(0.95,1.08)" text-anchor="middle">2.5</text><text transform="translate(532.9,269.7) scale(0.95,1.08)" text-anchor="middle">3.0</text></g>
<text x="483" y="304.5" font-family="DejaVu Serif, serif" font-size="24">×</text>
<text class="serif" transform="translate(501,304) scale(0.95,1.08)">10</text>
<text class="serif" transform="translate(524.2,290.3) scale(0.95,1.08)" style="font-size:17px">5</text>
<text class="song" transform="translate(299.8,301.5) scale(1,0.9)" text-anchor="middle">episodes</text>
<text class="song" transform="translate(21.5,124) rotate(-90) scale(1,0.9)" text-anchor="middle">Average Reward</text>
<rect x="351.4" y="128.5" width="169.4" height="103.2" rx="4.2" ry="4.2" fill="#fff" fill-opacity="0.8" stroke="#cfcfcf" stroke-width="1.8"/>
<g stroke-width="2.6">
<line x1="359.7" y1="146.9" x2="405.3" y2="146.9" stroke="#1f77b4"/>
<line x1="359.7" y1="178.9" x2="405.3" y2="178.9" stroke="#ff7f0e"/>
<line x1="359.7" y1="210.9" x2="405.3" y2="210.9" stroke="#2ca02c"/>
</g>
<text class="song" transform="translate(416,155.2) scale(1,0.9)">5 agent</text>
<text class="song" transform="translate(416,187.4) scale(1,0.9)">10 agent</text>
<text class="song" transform="translate(416,218.7) scale(1,0.9)">15 agent</text>
</svg>
</body></html>
